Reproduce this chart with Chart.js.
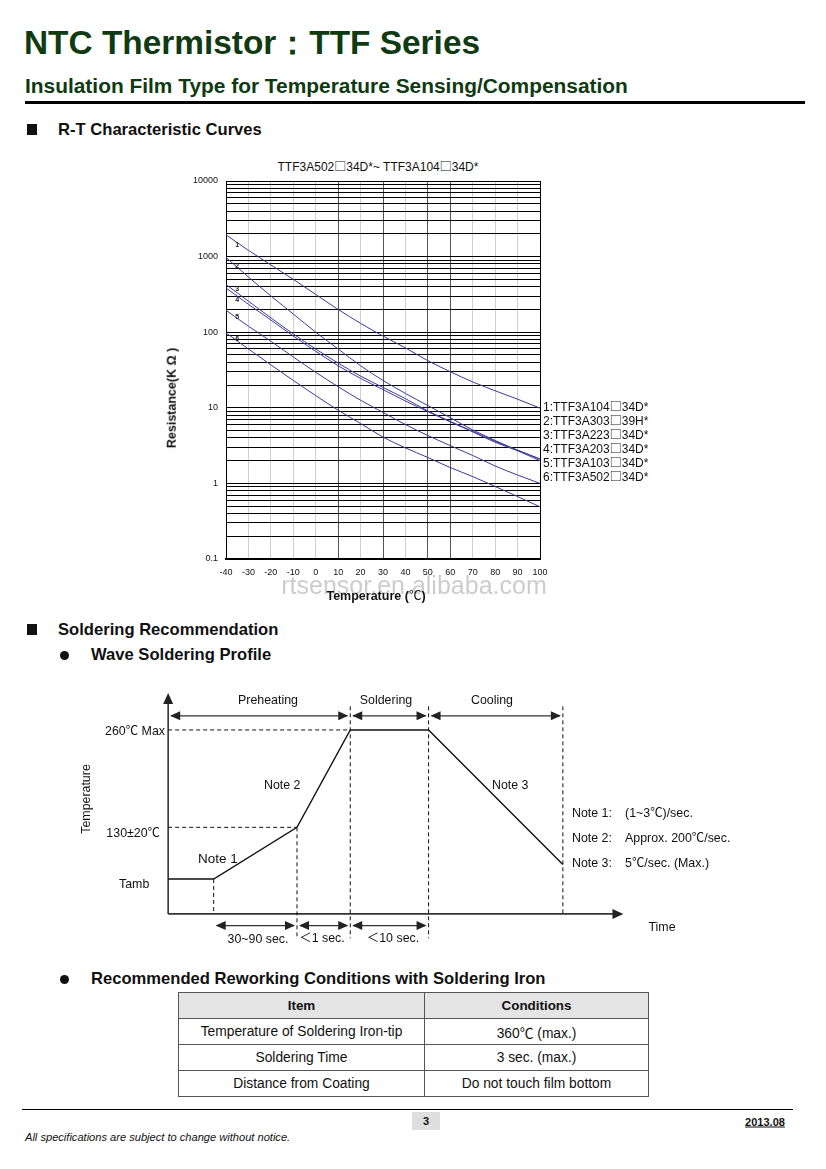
<!DOCTYPE html>
<html>
<head>
<meta charset="utf-8">
<title>NTC Thermistor TTF Series</title>
<script src="https://cdn.jsdelivr.net/npm/chart.js@4.4.0/dist/chart.umd.min.js"></script>
<style>
  html, body { margin: 0; padding: 0; background: #fff; }
  body { width: 826px; height: 1169px; position: relative; overflow: hidden;
         font-family: "Liberation Sans", Arial, sans-serif; color: #111; }
  .t { position: absolute; white-space: nowrap; line-height: 1; }
  .l { transform: translate(0, -50%); }
  .c { transform: translate(-50%, -50%); }
  .r { transform: translate(-100%, -50%); }
  .cjk { font-family: "Noto Sans CJK JP", "Noto Sans CJK SC", sans-serif; font-weight: normal; }
  .h1 { font-size: 33.4px; font-weight: bold; color: #0f3a12; }
  .h2 { font-size: 20.9px; font-weight: bold; color: #0f3a12; }
  .sec { font-size: 16.6px; font-weight: bold; }
  .sq { position: absolute; width: 10px; height: 11px; background: #111; }
  .dot { position: absolute; width: 9px; height: 9px; border-radius: 50%; background: #111; }
  .s12 { font-size: 12.4px; }
  .lg { font-size: 12px; color: #111; }
  canvas { position: absolute; }
  table { position: absolute; left: 178px; top: 992px; width: 471px; border-collapse: collapse;
          font-size: 13.8px; }
  td, th { border: 1px solid #555; text-align: center; padding: 0; height: 25px; }
  th { background: #e4e4e4; font-weight: bold; font-size: 13.4px; }
</style>
</head>
<body>

<!-- header -->
<div class="t l h1" style="left:24px;top:43px">NTC Thermistor：TTF Series</div>
<div class="t l h2" style="left:25px;top:86px">Insulation Film Type for Temperature Sensing/Compensation</div>
<div style="position:absolute;left:25px;top:101px;width:780px;height:3px;background:#000"></div>

<div class="sq" style="left:27px;top:124px"></div>
<div class="t l sec" style="left:58px;top:130px">R-T Characteristic Curves</div>

<!-- R-T chart -->
<div class="t c" style="left:378px;top:166px;font-size:12px">TTF3A502<span class="cjk">□</span>34D*~ TTF3A104<span class="cjk">□</span>34D*</div>
<canvas id="rt-chart" width="500" height="460" style="left:160px;top:150px"></canvas>
<div class="t c" style="left:172px;top:398px;font-size:12.5px;font-weight:bold;transform:translate(-50%,-50%) rotate(-90deg)">Resistance(K Ω )</div>
<div class="t c" style="left:414px;top:585px;font-size:25px;color:#cdcdcd">rtsensor.en.alibaba.com</div>
<div class="t c" style="left:376px;top:596px;font-size:12.5px;font-weight:bold">Temperature (<span class="cjk">℃</span>)</div>
<div id="rt-legend"></div>

<!-- soldering -->
<div class="sq" style="left:27px;top:624px"></div>
<div class="t l sec" style="left:58px;top:630px">Soldering Recommendation</div>
<div class="dot" style="left:60px;top:651px"></div>
<div class="t l sec" style="left:91px;top:655px">Wave Soldering Profile</div>

<canvas id="profile-chart" width="692" height="276" style="left:68px;top:671px"></canvas>
<div class="t c s12" style="left:268px;top:700px">Preheating</div>
<div class="t c s12" style="left:386px;top:700px">Soldering</div>
<div class="t c s12" style="left:492px;top:700px">Cooling</div>
<div class="t r s12" style="left:165px;top:731px">260<span class="cjk">℃</span> Max</div>
<div class="t r s12" style="left:160px;top:833px">130±20<span class="cjk">℃</span></div>
<div class="t l s12" style="left:119px;top:884px">Tamb</div>
<div class="t c s12" style="left:86px;top:799px;transform:translate(-50%,-50%) rotate(-90deg)">Temperature</div>
<div class="t l" style="left:198px;top:859px;font-size:13.5px">Note 1</div>
<div class="t l s12" style="left:264px;top:785px">Note 2</div>
<div class="t l s12" style="left:492px;top:785px">Note 3</div>
<div class="t c s12" style="left:258px;top:939px">30~90 sec.</div>
<div class="t c s12" style="left:322px;top:938px"><span class="cjk">＜</span>1 sec.</div>
<div class="t c s12" style="left:393px;top:938px"><span class="cjk">＜</span>10 sec.</div>
<div class="t c s12" style="left:662px;top:927px">Time</div>
<div class="t l s12" style="left:572px;top:813px">Note 1:</div>
<div class="t l s12" style="left:625px;top:813px">(1~3<span class="cjk">℃</span>)/sec.</div>
<div class="t l s12" style="left:572px;top:838px">Note 2:</div>
<div class="t l s12" style="left:625px;top:838px">Approx. 200<span class="cjk">℃</span>/sec.</div>
<div class="t l s12" style="left:572px;top:863px">Note 3:</div>
<div class="t l s12" style="left:625px;top:863px">5<span class="cjk">℃</span>/sec. (Max.)</div>

<!-- rework table -->
<div class="dot" style="left:60px;top:975px"></div>
<div class="t l sec" style="left:91px;top:979px">Recommended Reworking Conditions with Soldering Iron</div>
<table>
  <tr><th style="width:245px">Item</th><th>Conditions</th></tr>
  <tr><td>Temperature of Soldering Iron-tip</td><td>360<span class="cjk">℃</span> (max.)</td></tr>
  <tr><td>Soldering Time</td><td>3 sec. (max.)</td></tr>
  <tr><td>Distance from Coating</td><td>Do not touch film bottom</td></tr>
</table>

<!-- footer -->
<div style="position:absolute;left:22px;top:1109px;width:771px;height:1px;background:#000"></div>
<div style="position:absolute;left:412px;top:1112px;width:28px;height:18px;background:#dedede"></div>
<div class="t c" style="left:426px;top:1121px;font-size:11px;font-weight:bold">3</div>
<div class="t c" style="left:765px;top:1122px;font-size:11px;font-weight:bold;text-decoration:underline">2013.08</div>
<div class="t l" style="left:25px;top:1138px;font-size:11.1px;font-style:italic">All specifications are subject to change without notice.</div>

<script>
'use strict';

// ─────────────────────────────────────────────
// DATA — R-T curves (resistance in kΩ)
// ─────────────────────────────────────────────

const temps     = [-40, -30, -20, -10, 0, 10, 20, 30, 40, 50, 60, 70, 80, 90, 100];
const ttf3a104  = [1940, 1210, 776, 500, 316, 200, 131, 89, 62, 42, 30, 22, 16.8, 13, 9.9];
const ttf3a303  = [977, 537, 302, 174, 100, 60, 36, 23, 15.5, 10.7, 7.4, 5.1, 3.7, 2.75, 2.1];
const ttf3a223  = [427, 257, 155, 95, 60, 39, 26.3, 18.6, 13.2, 9.1, 6.6, 4.9, 3.6, 2.75, 2.1];
const ttf3a203  = [385, 234, 145, 89, 56, 36, 24.5, 17.4, 12.3, 8.9, 6.5, 4.8, 3.5, 2.7, 2.0];
const ttf3a103  = [195, 120, 76, 47, 29.5, 19, 12.6, 8.7, 6.0, 4.3, 3.16, 2.34, 1.7, 1.29, 1.0];
const ttf3a502  = [98, 60, 37, 23, 14.5, 9.3, 6.2, 4.1, 2.95, 2.2, 1.62, 1.23, 0.91, 0.67, 0.49];

const seriesCodes = ['1:TTF3A104|34D*', '2:TTF3A303|39H*', '3:TTF3A223|34D*',
                     '4:TTF3A203|34D*', '5:TTF3A103|34D*', '6:TTF3A502|34D*'];
const curveTags   = ['1', '2', '3', '4', '5', '6'];
const tagTemp     = -35;
const tagR        = [1400, 740, 377, 270, 160, 82];

const xTicks      = [-40, -30, -20, -10, 0, 10, 20, 30, 40, 50, 60, 70, 80, 90, 100];
const yDecades    = [0.1, 1, 10, 100, 1000, 10000];
const darkXGrid   = [10, 30, 50, 60];

// ─────────────────────────────────────────────
// DATA — wave soldering profile (schematic units)
// ─────────────────────────────────────────────

const profileTime = [0, 10, 28.3, 40, 57.2, 86.7];
const profileTemp = [15.8, 15.8, 39.2, 83.3, 83.3, 22.4];
const phaseNames  = ['Preheating', 'Soldering', 'Cooling'];
const stepNames   = ['30~90 sec.', '＜1 sec.', '＜10 sec.'];

const CURVE_COLOR = '#3a3a9c';

// ─────────────────────────────────────────────
// R-T CHART
// ─────────────────────────────────────────────

function buildLegend() {
  const box = document.getElementById('rt-legend');
  seriesCodes.forEach((code, i) => {
    const [head, tail] = code.split('|');
    const d = document.createElement('div');
    d.className = 't l lg';
    d.style.left = '543px';
    d.style.top  = (406 + i * 14) + 'px';
    d.innerHTML = `${head}<span class="cjk">□</span>${tail}`;
    box.appendChild(d);
  });
}

const curveTagPlugin = {
  id: 'curveTags',
  afterDatasetsDraw(chart) {
    const c = chart.ctx, xs = chart.scales.x, ys = chart.scales.y;
    c.save();
    c.font = 'bold 7px "Liberation Sans", Arial, sans-serif';
    c.fillStyle = '#222';
    c.textAlign = 'center';
    c.textBaseline = 'middle';
    curveTags.forEach((tag, i) => {
      c.fillText(tag, xs.getPixelForValue(tagTemp), ys.getPixelForValue(tagR[i]));
    });
    c.restore();
  }
};

function renderRtChart() {
  const all = [ttf3a104, ttf3a303, ttf3a223, ttf3a203, ttf3a103, ttf3a502];
  const ctx = document.getElementById('rt-chart').getContext('2d');

  const yGridValues = [];
  yDecades.slice(0, -1).forEach(d => {
    for (let k = 1; k < 10; k++) yGridValues.push(d * k);
  });
  yGridValues.push(yDecades[yDecades.length - 1]);

  new Chart(ctx, {
    type: 'line',
    data: {
      datasets: all.map((vals, i) => ({
        label: seriesCodes[i],
        data: temps.map((t, j) => ({ x: t, y: vals[j] })),
        borderColor: CURVE_COLOR,
        borderWidth: 1,
        pointRadius: 0,
        cubicInterpolationMode: 'monotone',
        fill: false,
      }))
    },
    options: {
      responsive: false,
      animation: false,
      layout: { padding: { left: 0, right: 120, top: 31, bottom: 0 } },
      plugins: { legend: { display: false }, tooltip: { enabled: false } },
      scales: {
        x: {
          type: 'linear', min: -40, max: 100,
          afterBuildTicks: s => { s.ticks = xTicks.map(v => ({ value: v })); },
          afterFit: s => { s.height = 51; },
          grid: {
            drawTicks: false,
            lineWidth: 1,
            color: g => (g.tick && darkXGrid.includes(g.tick.value)) ? '#555' :
                        (g.tick && (g.tick.value === -40 || g.tick.value === 100)) ? '#000' : '#cfcfcf',
          },
          border: { display: true, color: '#000', width: 2 },
          ticks: { autoSkip: false, maxRotation: 0, padding: 8, color: '#111',
                   font: { size: 9, family: '"Liberation Sans", Arial, sans-serif' } },
        },
        y: {
          type: 'logarithmic', min: 0.1, max: 10000,
          afterBuildTicks: s => { s.ticks = yGridValues.map(v => ({ value: v })); },
          afterFit: s => { s.width = 66; },
          grid: { drawTicks: false, color: '#000', lineWidth: 1 },
          border: { display: true, color: '#000', width: 1 },
          ticks: {
            autoSkip: false, padding: 8, color: '#111',
            font: { size: 9, family: '"Liberation Sans", Arial, sans-serif' },
            callback: v => {
              const hit = yDecades.find(d => Math.abs(d - v) < d * 1e-6);
              return hit === undefined ? '' : String(hit);
            }
          },
        }
      }
    },
    plugins: [curveTagPlugin]
  });
}

// ─────────────────────────────────────────────
// WAVE SOLDERING PROFILE
// ─────────────────────────────────────────────

function arrowHead(c, x, y, dir, len = 8, half = 4) {
  c.beginPath();
  if (dir === 'r') { c.moveTo(x, y); c.lineTo(x - len, y - half); c.lineTo(x - len, y + half); }
  if (dir === 'l') { c.moveTo(x, y); c.lineTo(x + len, y - half); c.lineTo(x + len, y + half); }
  if (dir === 'u') { c.moveTo(x, y); c.lineTo(x - half, y + len); c.lineTo(x + half, y + len); }
  c.closePath();
  c.fill();
}

function spanArrow(c, x1, x2, y) {
  c.beginPath();
  c.moveTo(x1 + 2, y);
  c.lineTo(x2 - 2, y);
  c.stroke();
  arrowHead(c, x1 + 1, y, 'l', 10, 4.5);
  arrowHead(c, x2 - 1, y, 'r', 10, 4.5);
}

const profileAxesPlugin = {
  id: 'profileAxes',
  beforeDatasetsDraw(chart) {
    const c = chart.ctx, xs = chart.scales.x, ys = chart.scales.y;
    const x0 = xs.getPixelForValue(0), y0 = ys.getPixelForValue(0);
    const xEnd = xs.getPixelForValue(100), yEnd = ys.getPixelForValue(100);
    c.save();
    c.strokeStyle = '#333';
    c.fillStyle = '#222';
    c.lineWidth = 1.6;
    c.beginPath();
    c.moveTo(x0, y0); c.lineTo(x0, yEnd + 6);
    c.moveTo(x0, y0); c.lineTo(xEnd - 6, y0);
    c.stroke();
    arrowHead(c, x0, yEnd, 'u', 11, 5);
    arrowHead(c, xEnd, y0, 'r', 11, 5);

    // phase arrows on top and duration arrows below
    c.lineWidth = 1.2;
    const topY = ys.getPixelForValue(89.7);
    const phases = [0, profileTime[3], profileTime[4], profileTime[5]];
    for (let i = 0; i < phaseNames.length; i++) {
      spanArrow(c, xs.getPixelForValue(phases[i]) + 1, xs.getPixelForValue(phases[i + 1]) - 1, topY);
    }
    const botY = ys.getPixelForValue(-5.3);
    const steps = [profileTime[1], profileTime[2], profileTime[3], profileTime[4]];
    for (let i = 0; i < stepNames.length; i++) {
      spanArrow(c, xs.getPixelForValue(steps[i]) + 1, xs.getPixelForValue(steps[i + 1]) - 1, botY);
    }
    c.restore();
  }
};

function dashed(points) {
  return {
    data: points,
    showLine: true,
    borderColor: '#111',
    borderWidth: 1,
    borderDash: [4, 3],
    pointRadius: 0,
  };
}

function renderProfileChart() {
  const ctx = document.getElementById('profile-chart').getContext('2d');
  const [, tB, tC, tD, tE, tF] = profileTime;
  const [, yB, yC, yD] = profileTemp;
  const low = -11, high = 94;

  new Chart(ctx, {
    type: 'scatter',
    data: {
      datasets: [
        {
          data: profileTime.map((t, i) => ({ x: t, y: profileTemp[i] })),
          showLine: true,
          borderColor: '#111',
          borderWidth: 1.4,
          pointRadius: 0,
          tension: 0,
        },
        dashed([{ x: 0, y: yD }, { x: tD, y: yD }]),
        dashed([{ x: 0, y: yC }, { x: tC, y: yC }]),
        dashed([{ x: tB, y: yB }, { x: tB, y: 0 }]),
        dashed([{ x: tC, y: yC }, { x: tC, y: low }]),
        dashed([{ x: tD, y: high }, { x: tD, y: low }]),
        dashed([{ x: tE, y: high }, { x: tE, y: low }]),
        dashed([{ x: tF, y: high }, { x: tF, y: 0 }]),
      ]
    },
    options: {
      responsive: false,
      animation: false,
      layout: { padding: 0 },
      plugins: { legend: { display: false }, tooltip: { enabled: false } },
      scales: {
        x: { type: 'linear', min: -22, max: 130, display: false },
        y: { type: 'linear', min: -15, max: 110, display: false },
      }
    },
    plugins: [profileAxesPlugin]
  });
}

// ─────────────────────────────────────────────
// INIT
// ─────────────────────────────────────────────

buildLegend();
renderRtChart();
renderProfileChart();
</script>
</body>
</html>
